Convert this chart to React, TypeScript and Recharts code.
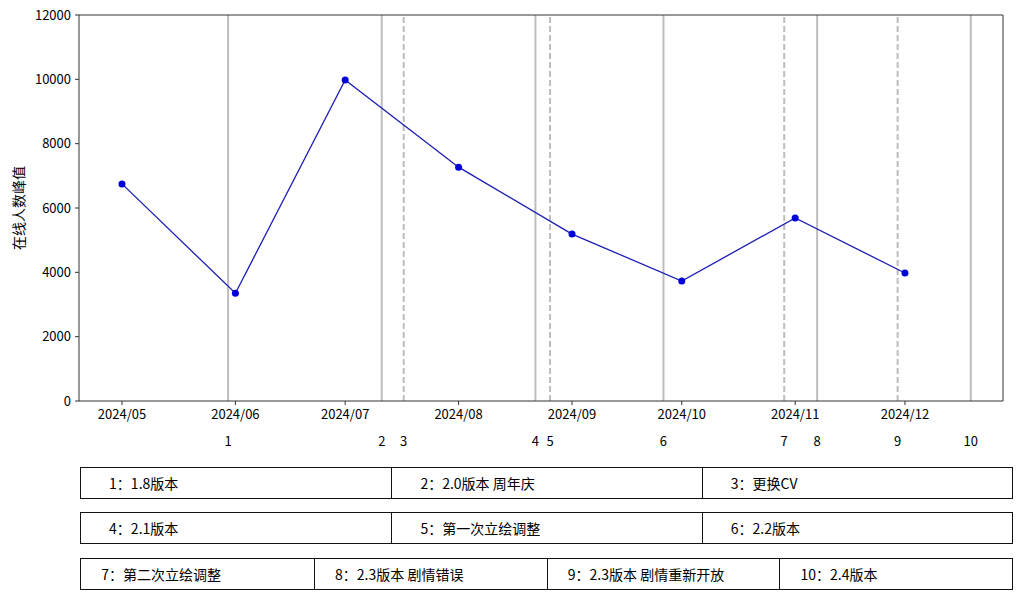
import { LineChart, Line, XAxis, YAxis, ReferenceLine } from 'recharts';

// months on the axis, and day offset from 2024-05-01
const monthLabels = ['2024/05', '2024/06', '2024/07', '2024/08', '2024/09', '2024/10', '2024/11', '2024/12'];
const monthDays = [0, 31, 61, 92, 123, 153, 184, 214];
const peakOnline = [6750, 3350, 9980, 7270, 5190, 3730, 5690, 3980];

// events (day offset from 2024-05-01)
const eventDays = [29, 71, 77, 113, 117, 148, 181, 190, 212, 232];
const eventDashed = [false, false, true, false, true, false, true, false, true, false];
const eventNotes = [
  '1.8版本', '2.0版本 周年庆', '更换CV',
  '2.1版本', '第一次立绘调整', '2.2版本',
  '第二次立绘调整', '2.3版本 剧情错误', '2.3版本 剧情重新开放', '2.4版本',
];
const tableRows = [[0, 1, 2], [3, 4, 5], [6, 7, 8, 9]];

const yTicks = [0, 2000, 4000, 6000, 8000, 10000, 12000];
const xDomain = [-11.75, 240.8];

const chartData = monthDays.map((d, i) => ({ day: d, label: monthLabels[i], value: peakOnline[i] }));

const FONT = '"Noto Sans CJK SC", "Noto Sans", sans-serif';
const tickStyle = { fontSize: 13, fill: '#000', fontFamily: FONT };

const YLabel = ({ viewBox }: any) => {
  const cy = viewBox.y + viewBox.height / 2;
  return (
    <text x={18} y={cy} transform={`rotate(-90, 18, ${cy})`} textAnchor="middle" dominantBaseline="central"
      fontFamily={FONT} fontSize={14} fill="#000">
      在线人数峰值
    </text>
  );
};

// event number under the month labels
const EventNumber = ({ viewBox, n }: any) => (
  <text x={viewBox.x} y={viewBox.y + viewBox.height + 39} textAnchor="middle" dominantBaseline="central"
    fontFamily={FONT} fontSize={13} fill="#000" stroke="none">
    {n}
  </text>
);

export default function App() {
  return (
    <div style={{ position: 'absolute', left: 0, top: 0, width: 1024, height: 600, background: '#fff', fontFamily: FONT }}>
      <LineChart width={1024} height={460} data={chartData} margin={{ top: 15, right: 21, left: 0, bottom: 0 }}>
        <XAxis
          dataKey="day"
          type="number"
          domain={xDomain}
          allowDataOverflow
          ticks={monthDays}
          tickFormatter={(v: number) => monthLabels[monthDays.indexOf(v)] ?? ''}
          tick={tickStyle}
          tickSize={4}
          tickMargin={5}
          height={59}
          stroke="#333"
          interval={0}
        />
        <YAxis
          type="number"
          domain={[0, 12000]}
          ticks={yTicks}
          tick={tickStyle}
          tickSize={4}
          tickMargin={4}
          width={79}
          stroke="#333"
          interval={0}
          label={<YLabel />}
        />
        {eventDays.map((d, i) => (
          <ReferenceLine key={i} x={d} stroke="#bdbdbd" strokeWidth={2}
            strokeDasharray={eventDashed[i] ? '6 3' : undefined}
            label={<EventNumber n={i + 1} />} />
        ))}
        <ReferenceLine y={12000} stroke="#333" />
        <ReferenceLine x={xDomain[1]} stroke="#333" />
        <Line
          dataKey="value"
          stroke="#1c1cb4"
          strokeWidth={1.3}
          dot={{ r: 3.5, fill: '#0000dd', stroke: '#0000dd', strokeWidth: 0 }}
          isAnimationActive={false}
        />
      </LineChart>
      {tableRows.map((row, ri) => (
        <div key={ri} style={{
          position: 'absolute', left: 80, top: [467, 512, 558][ri], width: 933, height: 32,
          display: 'flex', border: '1.5px solid #111', boxSizing: 'border-box',
        }}>
          {row.map((idx, ci) => {
            const w = 933 / row.length;
            return (
              <div key={idx} style={{
                width: w, boxSizing: 'border-box', borderLeft: ci ? '1.5px solid #111' : 'none',
                paddingLeft: w * 0.1 - 3, display: 'flex', alignItems: 'center', fontSize: 14, color: '#000',
              }}>
                {`${idx + 1}：${eventNotes[idx]}`}
              </div>
            );
          })}
        </div>
      ))}
    </div>
  );
}
